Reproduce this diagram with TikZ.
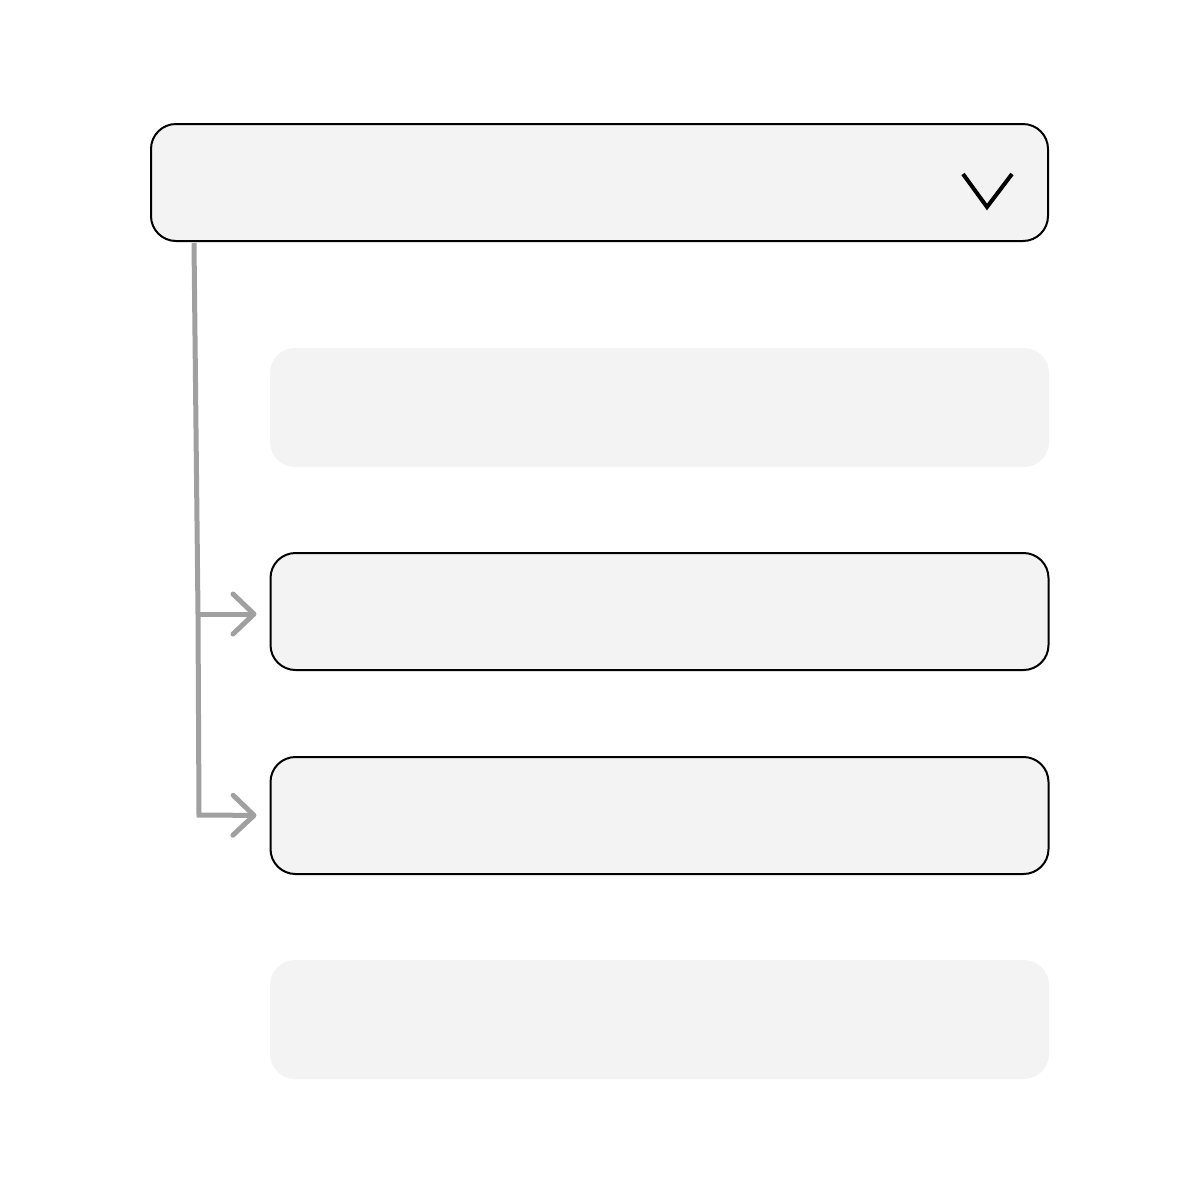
\documentclass[tikz,border=0pt]{standalone}
\usetikzlibrary{arrows.meta}
\definecolor{boxfill}{HTML}{F3F3F3}
\definecolor{conn}{HTML}{A0A0A0}
\tikzset{
  item/.style={rectangle, rounded corners=25pt, fill=boxfill, minimum width=778pt, minimum height=117pt, inner sep=0pt, line width=2pt},
  framed/.style={item, draw=black},
  plain/.style={item, minimum width=779pt, minimum height=119pt},
  link/.style={draw=conn, line width=5pt, -{Straight Barb[length=21pt,width=40pt,round]}, shorten >=13pt},
}
\begin{document}
\begin{tikzpicture}[x=1pt,y=-1pt]
\useasboundingbox (0,0) rectangle (1200,1200);
\node[framed, minimum width=897pt] (top) at (599.5,182.5) {};
\node[plain] (b2) at (659.5,407.5) {};
\node[framed] (b3) at (659.5,611.5) {};
\node[framed] (b4) at (659.5,815.5) {};
\node[plain] (b5) at (659.5,1019.5) {};
% chevron
\coordinate (c1) at (963,174);
\coordinate (c2) at (987,207);
\coordinate (c3) at (1012,174);
\draw[line width=4pt, line cap=butt] (c1) -- (c2) -- (c3);
% connector
\coordinate (s) at ([xshift=44pt,yshift=-1pt]top.south west);
\coordinate (j1) at (198,614);
\coordinate (j2) at (199,815);
\draw[draw=conn, line width=5pt] (s) -- (j1);
\draw[link] (j1) -- (j1 -| b3.west);
\draw[link] (j1) -- (j2) -- (b4.west);
\end{tikzpicture}
\end{document}
